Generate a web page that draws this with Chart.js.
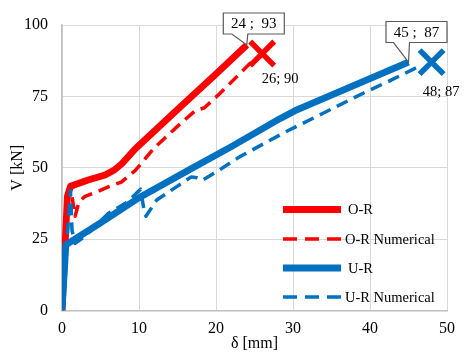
<!DOCTYPE html>
<html><head><meta charset="utf-8">
<script src="https://cdn.jsdelivr.net/npm/chart.js@4.4.0/dist/chart.umd.min.js"></script>
<style>html,body{margin:0;padding:0;background:#fff}#wrap{width:474px;height:355px;position:relative}
#probe{position:absolute;left:-999px;top:0;font-family:'Liberation Serif';font-size:16px}</style>
</head><body><div id="probe">0123 δ</div><div id="wrap"><canvas id="c" width="474" height="355"></canvas></div>
<script>
// ---- data ----
const seriesNames = ['O-R', 'O-R Numerical', 'U-R', 'U-R Numerical'];
const orX  = [0, 0.7, 1.1, 3.4, 5.6, 6.8, 7.8, 9.5, 15, 20, 24];
const orY  = [0, 40, 43.5, 45.7, 47.5, 49.2, 51.5, 56.6, 70.4, 82.8, 93];
const ornX = [0, 0.9, 1.3, 1.7, 2.2, 3, 4.5, 6, 7.7, 9.5, 12, 15, 17.3, 18.5, 20.5, 24.4, 25.3];
const ornY = [0, 43, 40, 33, 38, 40, 41.5, 43.3, 45, 49, 57, 64.5, 70, 71, 76, 86.5, 88.5];
const urX  = [0, 0.5, 5, 10, 17, 22, 28.3, 30.5, 45];
const urY  = [0, 23, 30.7, 39.5, 50, 57.4, 67.2, 70.3, 87];
const urnX = [0, 1.1, 1.3, 1.7, 3, 6, 8.4, 10.2, 10.6, 10.9, 12.3, 14.9, 16.8, 17.5, 18.2, 20.1, 23.1, 29, 33.9, 39.1, 42.6, 46];
const urnY = [0, 42, 28, 23.5, 26, 34, 37.8, 42.5, 36, 33, 38.7, 43.4, 46.8, 46.5, 45.6, 48.6, 53.9, 62.5, 69.1, 76.1, 80.5, 85];
const peakOR = [24, 93];   // callout values
const peakUR = [45, 87];
const failOR = [26, 90];   // cross markers
const failUR = [48, 87];
const xTicks = [0, 10, 20, 30, 40, 50];
const yTicks = [0, 25, 50, 75, 100];
const xTitle = 'δ [mm]';
const yTitle = 'V [kN]';

// ---- styles ----
const RED = '#FF0000', BLUE = '#0070C0';
const SERIF = "'Liberation Serif'";
const pts = (xs, ys) => xs.map((x, i) => ({x: x, y: ys[i]}));

const lineDs = (label, xs, ys, color, dashed, order) => ({
  type: 'line', label, data: pts(xs, ys), borderColor: color, backgroundColor: color,
  borderWidth: dashed ? 3.5 : 6.8, borderDash: dashed ? [12, 7] : [],
  borderJoinStyle: 'round', borderCapStyle: 'butt',
  pointRadius: 0, tension: 0, fill: false, order
});
const crossDs = (v, color) => ({
  type: 'line', label: '', data: [{x: v[0], y: v[1]}], showLine: false,
  pointStyle: 'crossRot', pointRadius: 17, pointBorderWidth: 5.5,
  borderColor: color, backgroundColor: color, order: -1
});

const annot = {
  id: 'annot',
  afterDatasetsDraw(chart) {
    const {ctx, scales: {x, y}} = chart;
    ctx.save();
    const callout = (v, dx, dy) => {
      const tx = x.getPixelForValue(v[0]), ty = y.getPixelForValue(v[1]);
      const w = 61, h = 21;
      const cx = tx + dx, bottom = ty + dy, left = cx - w / 2, top = bottom - h;
      ctx.beginPath();
      ctx.moveTo(left, top); ctx.lineTo(left + w, top); ctx.lineTo(left + w, bottom);
      ctx.lineTo(tx + 1, bottom); ctx.lineTo(tx, ty); ctx.lineTo(tx - 15, bottom);
      ctx.lineTo(left, bottom); ctx.closePath();
      ctx.fillStyle = '#fff'; ctx.fill();
      ctx.strokeStyle = '#5a5a5a'; ctx.lineWidth = 1.2; ctx.stroke();
      ctx.fillStyle = '#000'; ctx.font = '15px ' + SERIF;
      ctx.textAlign = 'center'; ctx.textBaseline = 'middle';
      ctx.fillText(v[0] + ' ;  ' + v[1], cx, top + h / 2 + 1);
    };
    callout(peakOR, 7, -11);
    callout(peakUR, 8, -19.6);
    ctx.fillStyle = '#000'; ctx.font = '14.5px ' + SERIF;
    ctx.textAlign = 'center'; ctx.textBaseline = 'middle';
    ctx.fillText(failOR[0] + '; ' + failOR[1], x.getPixelForValue(failOR[0]) + 18, y.getPixelForValue(failOR[1]) + 26);
    ctx.fillText(failUR[0] + '; ' + failUR[1], x.getPixelForValue(failUR[0]) + 9.5, y.getPixelForValue(failUR[1]) + 30);
    const rows = [209.5, 239, 268, 297];
    chart.data.datasets.slice(0, 4).forEach((ds, i) => {
      ctx.beginPath();
      ctx.strokeStyle = ds.borderColor; ctx.lineWidth = ds.borderWidth;
      ctx.setLineDash(ds.borderDash.length ? [14, 8] : []);
      ctx.moveTo(283, rows[i]); ctx.lineTo(341, rows[i]); ctx.stroke();
      ctx.setLineDash([]);
      ctx.fillStyle = '#000'; ctx.font = '14.5px ' + SERIF;
      ctx.textAlign = 'left'; ctx.textBaseline = 'middle';
      ctx.fillText(ds.label, ds.borderDash.length ? 345 : 348, rows[i] + 1);
    });
    ctx.restore();
  }
};

function draw() {
  new Chart(document.getElementById('c'), {
    type: 'line',
    data: {
      datasets: [
        lineDs(seriesNames[0], orX, orY, RED, false, 4),
        lineDs(seriesNames[1], ornX, ornY, RED, true, 3),
        lineDs(seriesNames[2], urX, urY, BLUE, false, 2),
        lineDs(seriesNames[3], urnX, urnY, BLUE, true, 1),
        crossDs(failOR, RED),
        crossDs(failUR, BLUE)
      ]
    },
    options: {
      responsive: false, animation: false, devicePixelRatio: 1,
      layout: {padding: {top: 25, right: 27, bottom: 0, left: 0}},
      plugins: {legend: {display: false}, tooltip: {enabled: false}},
      scales: {
        x: {
          type: 'linear', min: 0, max: 50,
          afterBuildTicks: s => { s.ticks = xTicks.map(v => ({value: v})); },
          afterFit: s => { s.height = 44.5; },
          grid: {color: '#d9d9d9', lineWidth: 1, drawTicks: false},
          border: {color: '#bfbfbf', width: 1.5},
          ticks: {color: '#000', font: {family: SERIF, size: 16}, padding: 9, maxRotation: 0},
          title: {display: true, text: xTitle, color: '#000', font: {family: SERIF, size: 16}, padding: {top: 0, bottom: 2}}
        },
        y: {
          type: 'linear', min: 0, max: 100,
          afterBuildTicks: s => { s.ticks = yTicks.map(v => ({value: v})); },
          afterFit: s => { s.width = 62; },
          grid: {color: '#d9d9d9', lineWidth: 1, drawTicks: false},
          border: {color: '#bfbfbf', width: 1.5},
          ticks: {color: '#000', font: {family: SERIF, size: 16}, padding: 14},
          title: {display: true, text: yTitle, color: '#000', font: {family: SERIF, size: 16}, padding: {top: 8, bottom: 0}}
        }
      }
    },
    plugins: [annot]
  });
}
if (document.fonts && document.fonts.load) {
  Promise.all([document.fonts.load("16px 'Liberation Serif'"), document.fonts.load("16px 'Liberation Serif'", 'δ')])
    .then(draw, draw);
} else { draw(); }
</script></body></html>
